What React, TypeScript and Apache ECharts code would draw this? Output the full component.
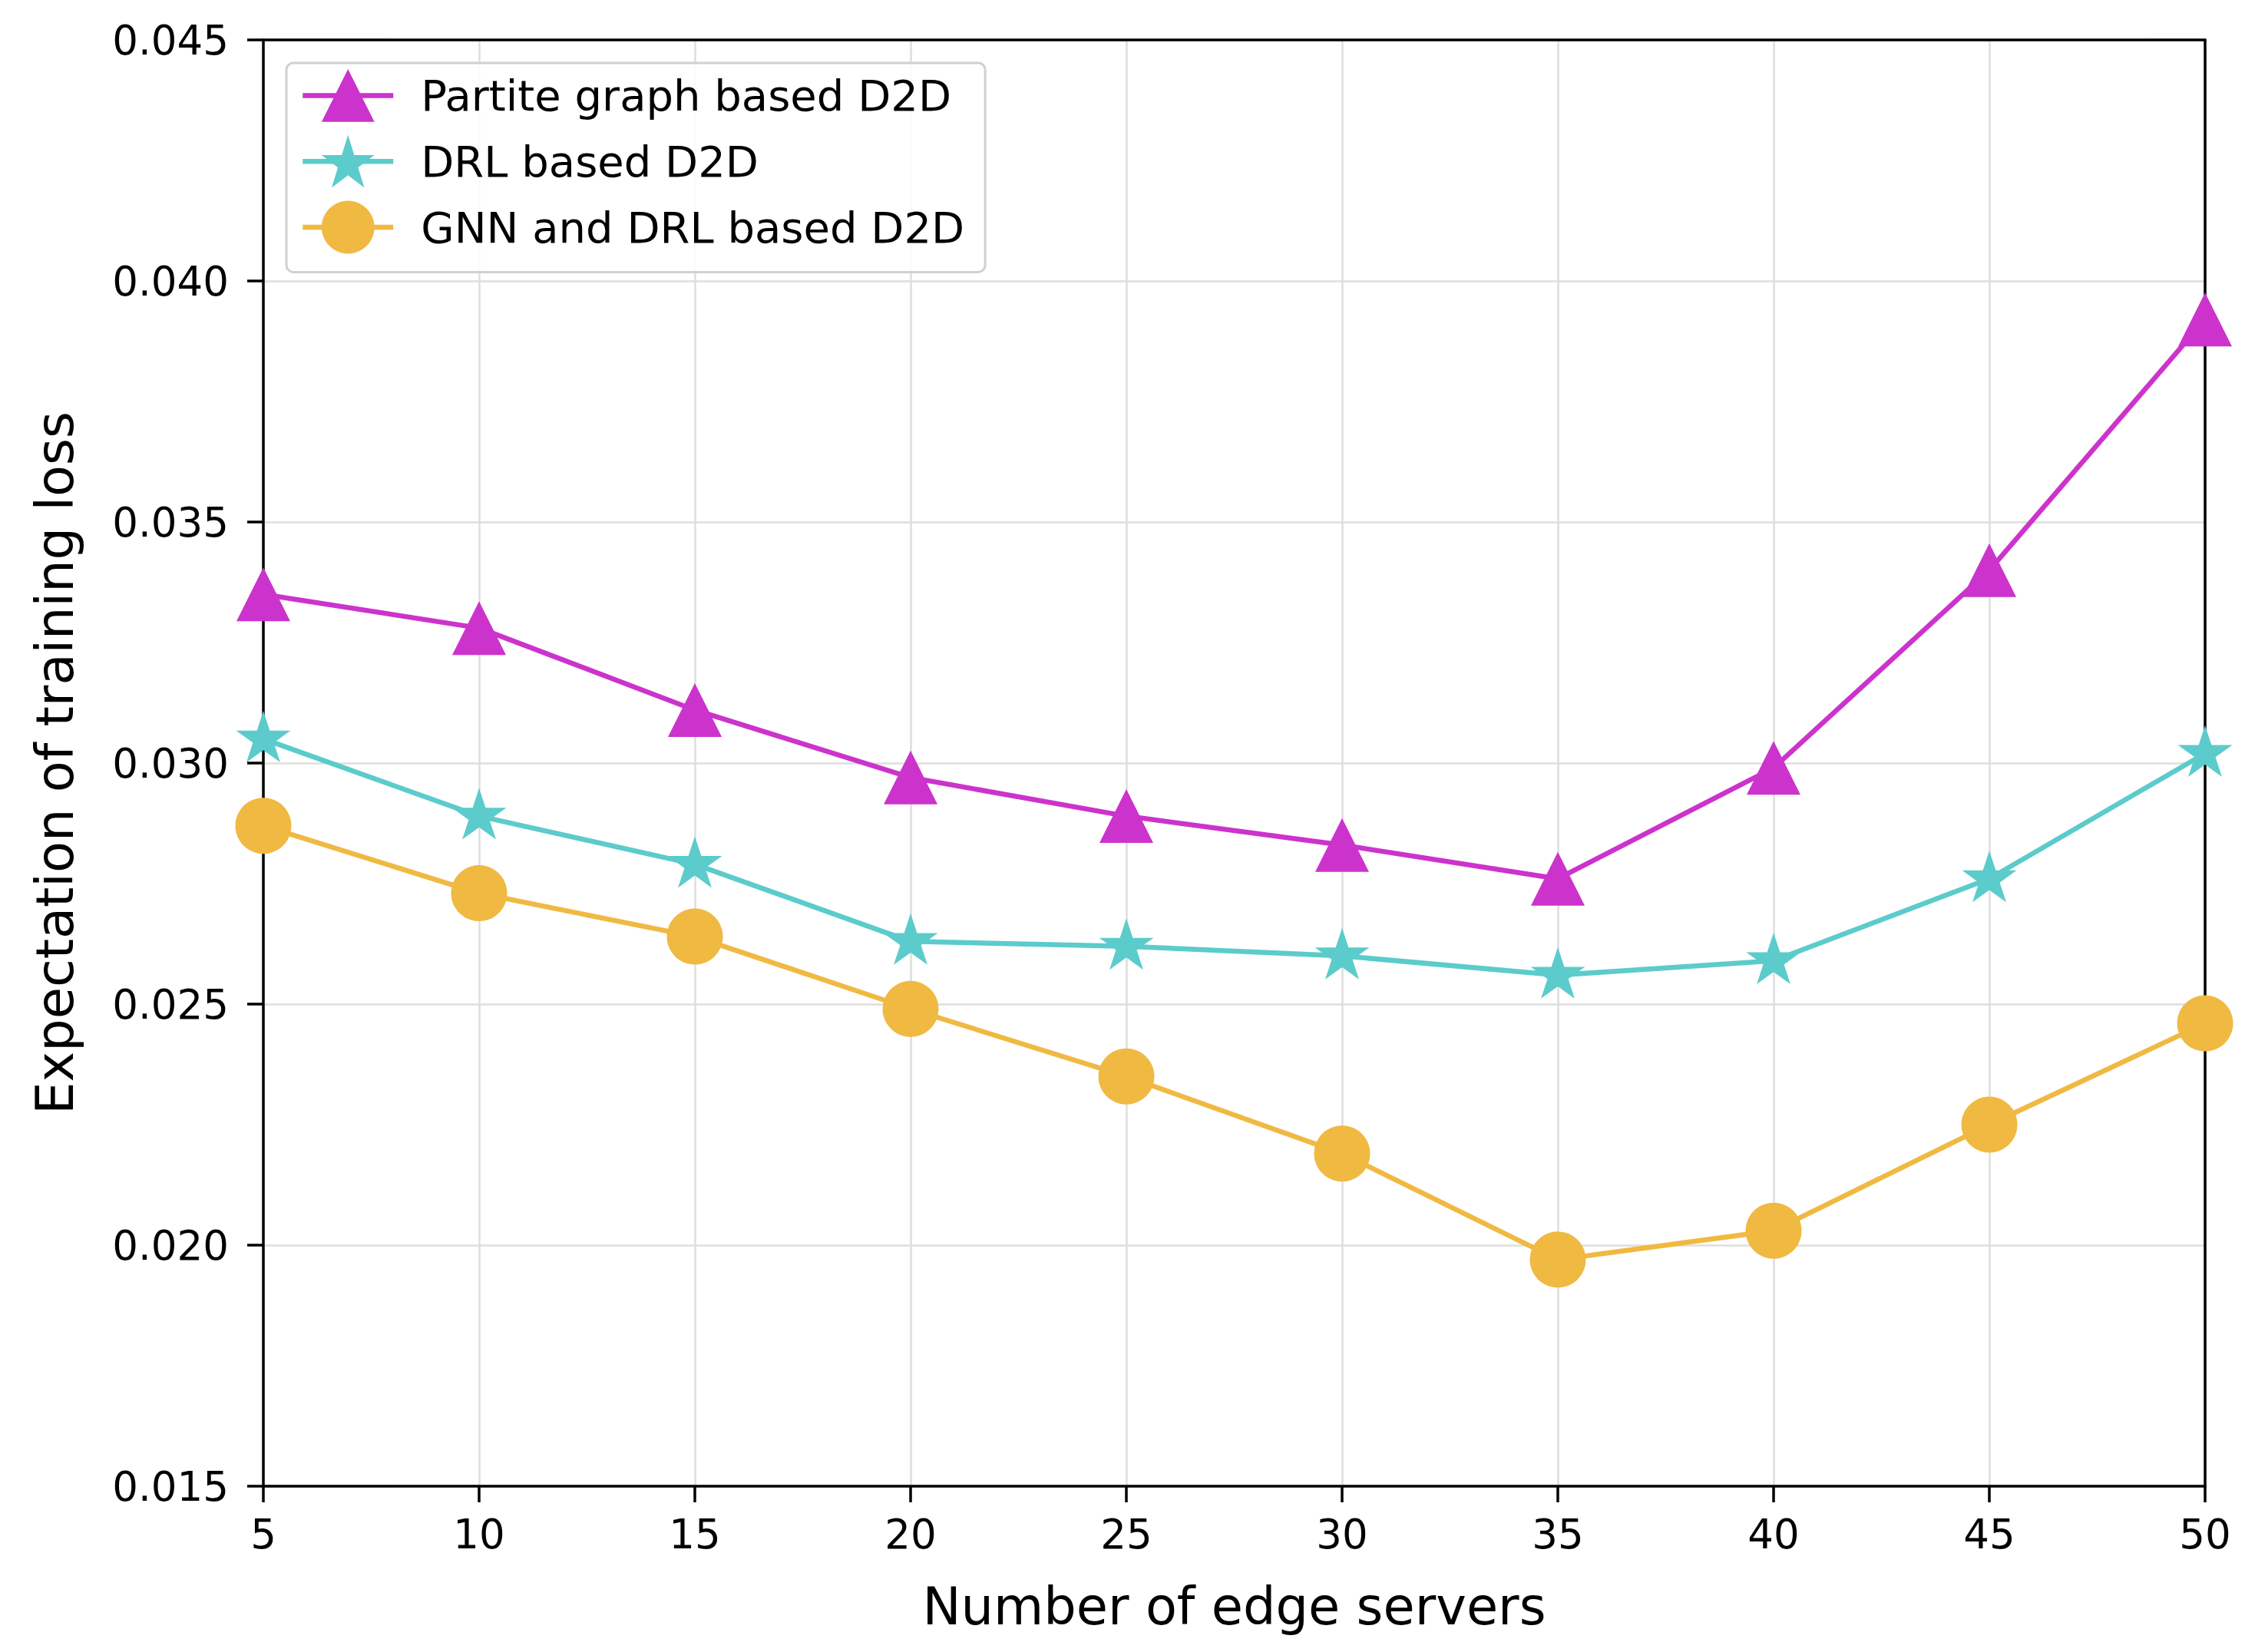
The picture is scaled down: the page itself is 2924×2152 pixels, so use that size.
import React, { useEffect, useRef } from "react";
import * as echarts from "echarts";

const serverCounts = [5, 10, 15, 20, 25, 30, 35, 40, 45, 50];
const partiteLoss = [0.0335, 0.0328, 0.0311, 0.0297, 0.0289, 0.0283, 0.0276, 0.0299, 0.034, 0.0392];
const drlLoss = [0.0305, 0.0289, 0.0279, 0.0263, 0.0262, 0.026, 0.0256, 0.0259, 0.0276, 0.0302];
const gnnLoss = [0.0287, 0.0273, 0.0264, 0.0249, 0.0235, 0.0219, 0.0197, 0.0203, 0.0225, 0.0246];
const seriesNames = ["Partite graph based D2D", "DRL based D2D", "GNN and DRL based D2D"];

const STAR =
  "path://M0,-1L0.2245,-0.309L0.9511,-0.309L0.3633,0.118L0.5878,0.809L0,0.382L-0.5878,0.809L-0.3633,0.118L-0.9511,-0.309L-0.2245,-0.309Z";

const FONT = "DejaVu Sans";

export default function App() {
  const ref = useRef<HTMLDivElement>(null);
  useEffect(() => {
    if (!ref.current) return;
    const chart = echarts.init(ref.current, undefined, { renderer: "svg" });
    const pairs = (ys: number[]) => serverCounts.map((x, i) => [x, ys[i]]);
    const lineW = 6.5;
    const frameAxis = {
      axisLine: { show: true, onZero: false, lineStyle: { color: "#000000", width: 3.5 } },
      axisTick: { show: false },
      axisLabel: { show: false },
      splitLine: { show: false },
      z: 1,
    };
    chart.setOption({
      animation: false,
      backgroundColor: "#ffffff",
      grid: {
        left: 343,
        right: 52,
        top: 52,
        bottom: 216,
      },
      legend: {
        left: 373,
        top: 82,
        orient: "vertical",
        itemWidth: 118,
        itemHeight: 86,
        itemGap: 17,
        padding: [8, 27, 24, 18],
        backgroundColor: "rgba(255,255,255,0.85)",
        borderColor: "#d0d0d0",
        borderWidth: 3,
        borderRadius: 9,
        selectedMode: false,
        lineStyle: { width: 6.5 },
        textStyle: {
          fontFamily: FONT,
          fontSize: 56,
          color: "#000000",
          padding: [0, 0, 0, 31],
        },
        data: seriesNames,
      },
      xAxis: [
        {
          type: "value",
          min: 5,
          max: 50,
          interval: 5,
          position: "bottom",
          name: "Number of edge servers",
          nameLocation: "middle",
          nameGap: 123,
          nameTextStyle: { fontFamily: FONT, fontSize: 67, color: "#000000" },
          axisLine: { show: true, onZero: false, lineStyle: { color: "#000000", width: 3.5 } },
          axisTick: { show: true, inside: false, length: 21, lineStyle: { color: "#000000", width: 3.5 } },
          axisLabel: { fontFamily: FONT, fontSize: 53, color: "#000000", margin: 36 },
          splitLine: { show: true, lineStyle: { color: "#dedede", width: 2.5 } },
        },
        { type: "value", min: 5, max: 50, interval: 5, position: "top", ...frameAxis },
      ],
      yAxis: [
        {
          type: "value",
          min: 0.015,
          max: 0.045,
          interval: 0.005,
          position: "left",
          name: "Expectation of training loss",
          nameLocation: "middle",
          nameGap: 238,
          nameTextStyle: { fontFamily: FONT, fontSize: 67, color: "#000000" },
          axisLine: { show: true, onZero: false, lineStyle: { color: "#000000", width: 3.5 } },
          axisTick: { show: true, inside: false, length: 21, lineStyle: { color: "#000000", width: 3.5 } },
          axisLabel: {
            fontFamily: FONT,
            fontSize: 53,
            color: "#000000",
            margin: 45,
            formatter: (v: number) => v.toFixed(3),
          },
          splitLine: { show: true, lineStyle: { color: "#dedede", width: 2.5 } },
        },
        { type: "value", min: 0.015, max: 0.045, interval: 0.005, position: "right", ...frameAxis },
      ],
      series: [
        {
          name: seriesNames[0],
          type: "line",
          data: pairs(partiteLoss),
          symbol: "triangle",
          symbolSize: 70,
          clip: false,
          lineStyle: { color: "#cc33cc", width: lineW },
          itemStyle: { color: "#cc33cc" },
        },
        {
          name: seriesNames[1],
          type: "line",
          data: pairs(drlLoss),
          symbol: STAR,
          symbolSize: [71, 67],
          symbolOffset: [0, -3],
          clip: false,
          lineStyle: { color: "#5ccbcb", width: lineW },
          itemStyle: { color: "#5ccbcb" },
        },
        {
          name: seriesNames[2],
          type: "line",
          data: pairs(gnnLoss),
          symbol: "circle",
          symbolSize: 73,
          clip: false,
          lineStyle: { color: "#f0b942", width: lineW },
          itemStyle: { color: "#f0b942" },
        },
      ],
    });
    return () => chart.dispose();
  }, []);
  return (
    <div
      ref={ref}
      style={{ position: "absolute", left: 0, top: 0, width: 2924, height: 2152, background: "#ffffff" }}
    />
  );
}
